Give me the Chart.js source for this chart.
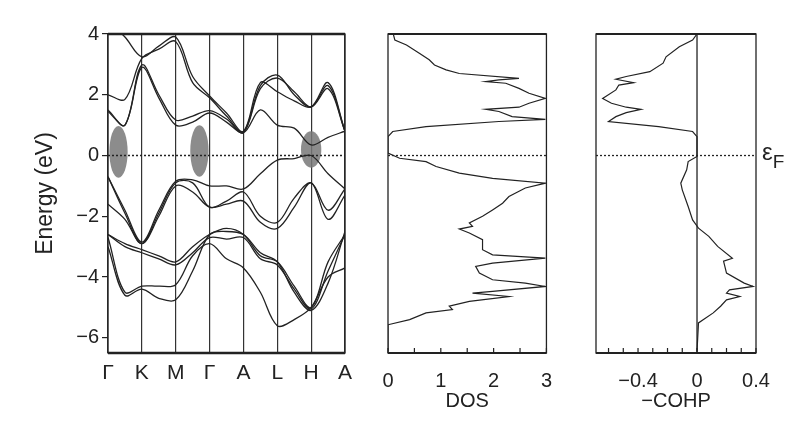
<!DOCTYPE html>
<html><head><meta charset="utf-8">
<script src="https://cdn.jsdelivr.net/npm/chart.js@4"></script>
<style>
body{margin:0;background:#fff;width:812px;height:431px;position:relative;overflow:hidden;font-family:"Liberation Sans",Arial,sans-serif}
canvas{position:absolute;top:0}
#ef{position:absolute;left:762px;top:138px;font-size:24px;color:#222}
#ef sub{font-size:19px;position:relative;top:2px}
</style></head><body>
<canvas id="c1" style="left:0" width="360" height="431"></canvas>
<canvas id="c2" style="left:370px" width="190" height="431"></canvas>
<canvas id="c3" style="left:580px" width="232" height="431"></canvas>
<div id="ef">ε<sub>F</sub></div>
<script>
const kLabels = ["Γ","K","M","Γ","A","L","H","A"];
const kPos = [0,0.5,1,1.5,2,2.5,3,3.5,4,4.5,5,5.5,6,6.5,7];
const bands = [
 [4.4,3.9,3.25,3.6,3.9,2.6,1.96,1.4,0.8,2.4,2.1,1.8,1.6,2.4,0.8],
 [2.0,1.85,3.2,3.5,3.75,2.4,1.9,1.3,0.78,2.3,2.65,2.0,1.6,2.3,0.8],
 [1.5,1.0,2.98,2.0,1.17,1.3,1.48,1.2,0.75,2.2,2.55,2.1,1.6,2.2,0.8],
 [1.45,1.0,2.9,1.9,1.0,1.1,1.4,1.1,0.75,1.5,1.0,0.9,0.35,0.6,0.8],
 [-0.7,-1.8,-2.85,-1.8,-0.85,-0.8,-1.0,-1.0,-1.1,-0.6,-0.15,-0.1,0.0,-0.6,-1.1],
 [-0.7,-1.9,-2.9,-1.9,-0.9,-0.9,-1.7,-1.5,-1.2,-2.0,-2.2,-1.4,-0.9,-1.8,-1.1],
 [-1.6,-2.1,-2.9,-2.0,-1.0,-1.2,-1.7,-1.6,-1.5,-2.2,-2.4,-1.7,-0.9,-2.1,-1.3],
 [-2.6,-2.9,-3.1,-3.3,-3.5,-3.0,-2.6,-2.4,-2.6,-3.3,-3.5,-4.3,-5.0,-3.5,-2.6],
 [-2.6,-3.0,-3.2,-3.4,-3.6,-3.2,-2.7,-2.75,-2.7,-3.4,-3.6,-4.4,-5.05,-3.8,-2.6],
 [-2.7,-4.5,-4.3,-4.3,-4.25,-3.3,-2.9,-3.4,-3.7,-4.5,-5.6,-5.4,-5.0,-4.0,-3.7],
 [-3.0,-4.6,-4.4,-4.7,-4.75,-3.8,-2.6,-2.5,-2.6,-3.2,-3.5,-4.5,-5.1,-4.2,-2.5]
];
const ellipses = [[0.31,0.12,0.27,0.85],[2.7,0.15,0.27,0.85],[6.0,0.2,0.3,0.6]];
const dosE = [4.0,3.8,3.64,3.36,3.15,2.98,2.82,2.7,2.54,2.49,2.43,2.38,2.21,2.05,1.88,1.72,1.59,1.52,1.45,1.28,1.19,1.12,0.95,0.79,0.62,0.08,-0.09,-0.2,-0.36,-0.58,-0.75,-0.91,-1.07,-1.35,-1.57,-1.79,-2.0,-2.22,-2.33,-2.42,-2.55,-2.77,-3.1,-3.27,-3.38,-3.54,-3.65,-3.87,-4.09,-4.2,-4.31,-4.47,-4.53,-4.64,-4.8,-4.96,-5.07,-5.18,-5.4,-5.57,-6.44];
const dosV = [0.1,0.13,0.35,0.6,0.78,0.88,1.1,1.35,2.48,2.1,1.85,2.23,2.48,2.67,2.98,2.67,2.48,1.85,2.1,2.35,2.98,2.1,0.72,0.09,0,0,0.22,0.72,0.91,1.35,1.98,2.98,2.6,2.29,2.17,1.98,1.79,1.54,1.6,1.35,1.54,1.79,1.79,1.98,2.98,1.98,1.66,1.73,1.98,2.6,2.98,1.98,1.6,2.29,1.54,1.16,1.22,0.72,0.41,0,0];
const cohpE = [4,3.8,3.58,3.25,3.04,2.76,2.6,2.51,2.4,2.32,2.16,1.88,1.72,1.59,1.52,1.41,1.28,1.12,0.95,0.79,0.62,-0.03,-0.2,-0.47,-0.91,-1.13,-1.68,-2.12,-2.39,-2.66,-2.99,-3.38,-3.48,-3.87,-4.2,-4.31,-4.42,-4.53,-4.64,-4.75,-4.96,-5.18,-5.51,-6.44];
const cohpV = [0,-0.03,-0.12,-0.21,-0.23,-0.32,-0.48,-0.55,-0.43,-0.53,-0.55,-0.64,-0.58,-0.48,-0.38,-0.48,-0.55,-0.6,-0.26,-0.03,0,0,-0.06,-0.07,-0.11,-0.1,-0.06,-0.03,0.01,0.08,0.14,0.24,0.18,0.2,0.32,0.38,0.22,0.2,0.29,0.2,0.16,0.11,0.01,0];
const eTicks = [4,2,0,-2,-4,-6];
const dosTicks = [0,0.5,1,1.5,2,2.5,3];
const cohpTicks = [-0.6,-0.5,-0.4,-0.3,-0.2,-0.1,0,0.1,0.2,0.3,0.4];

const FONT = "'Liberation Sans', Arial, sans-serif";
const INK = '#222';
Chart.defaults.font.family = FONT;
Chart.defaults.color = INK;
Chart.defaults.animation = false;

function framePlugin(opts){
  return {id:'frame', beforeDatasetsDraw(ch){
    const {ctx, scales:{x,y}} = ch;
    ctx.save();
    if(opts.ellipses){
      ctx.fillStyle = 'rgba(120,120,120,0.85)';
      opts.ellipses.forEach(e=>{
        const cx=x.getPixelForValue(e[0]), cy=y.getPixelForValue(e[1]);
        const rx=Math.abs(x.getPixelForValue(e[0]+e[2])-cx), ry=Math.abs(y.getPixelForValue(e[1]+e[3])-cy);
        ctx.beginPath(); ctx.ellipse(cx,cy,rx,ry,0,0,Math.PI*2); ctx.fill();
      });
    }
    ctx.restore();
  }, afterDatasetsDraw(ch){
    const {ctx, chartArea:a, scales:{x,y}} = ch;
    ctx.save();
    ctx.strokeStyle = INK; ctx.lineWidth = 1.3;
    ctx.strokeRect(a.left,a.top,a.right-a.left,a.bottom-a.top);
    ctx.lineWidth = opts.thickTop?2.4:1.8; ctx.beginPath(); ctx.moveTo(a.left,a.top); ctx.lineTo(a.right,a.top); ctx.moveTo(a.left,a.bottom); ctx.lineTo(a.right,a.bottom); ctx.stroke();
    ctx.lineWidth = 1.3; ctx.setLineDash([2,2]);
    const yz = y.getPixelForValue(0);
    ctx.beginPath(); ctx.moveTo(a.left,yz); ctx.lineTo(a.right,yz); ctx.stroke();
    ctx.setLineDash([]);
    if(opts.zeroLine){
      const xz = x.getPixelForValue(0);
      ctx.lineWidth = 1.3; ctx.beginPath(); ctx.moveTo(xz,a.top); ctx.lineTo(xz,a.bottom); ctx.stroke();
    }
    if(opts.inTicks){
      ctx.lineWidth = 1.2; ctx.beginPath();
      opts.inTicks.forEach(v=>{const px=x.getPixelForValue(v); ctx.moveTo(px,a.bottom); ctx.lineTo(px,a.bottom-5);});
      ctx.stroke();
    }
    ctx.restore();
  }};
}

new Chart(document.getElementById('c1'), {
  type:'line',
  data:{datasets: bands.map(b=>({data:b.map((v,i)=>({x:kPos[i],y:v})), borderColor:INK, borderWidth:1.3, pointRadius:0, tension:0.35, fill:false}))},
  options:{responsive:false, maintainAspectRatio:false,
    layout:{padding:{top:34,right:12,left:32,bottom:0}},
    plugins:{legend:{display:false},tooltip:{enabled:false}},
    scales:{
      x:{type:'linear',min:0,max:7,
        afterBuildTicks:ax=>{ax.ticks=kLabels.map((l,i)=>({value:i}));},
        afterFit:ax=>{ax.height=78;},
        ticks:{autoSkip:false,maxRotation:0,padding:8,font:{size:21},callback:v=>kLabels[v]},
        grid:{color:'#333',lineWidth:1.2,tickLength:0},border:{display:false}},
      y:{min:-6.5,max:4,
        afterBuildTicks:ax=>{ax.ticks=eTicks.map(v=>({value:v}));},
        afterFit:ax=>{ax.width=76;},
        ticks:{font:{size:20},padding:3,callback:v=>v<0?'−'+Math.abs(v):String(v)},
        grid:{drawOnChartArea:false,tickLength:6,color:INK,lineWidth:1.2},border:{display:false},
        title:{display:true,text:'Energy (eV)',font:{size:23},padding:{top:0,bottom:4}}}
    }},
  plugins:[framePlugin({ellipses,thickTop:true})]
});

new Chart(document.getElementById('c2'), {
  type:'scatter',
  data:{datasets:[{data:dosV.map((v,i)=>({x:v,y:dosE[i]})), showLine:true, borderColor:INK, borderWidth:1.2, pointRadius:0, tension:0}]},
  options:{responsive:false, maintainAspectRatio:false,
    layout:{padding:{top:34,right:12,left:18,bottom:18}},
    plugins:{legend:{display:false},tooltip:{enabled:false}},
    scales:{
      x:{type:'linear',min:0,max:3,
        afterBuildTicks:ax=>{ax.ticks=dosTicks.map(v=>({value:v}));},
        afterFit:ax=>{ax.height=60;},
        ticks:{autoSkip:false,maxRotation:0,padding:8,font:{size:20},callback:v=>Number.isInteger(v)?String(v):''},
        grid:{display:false},border:{display:false},
        title:{display:true,text:'DOS',font:{size:20},padding:{top:0,bottom:0}}},
      y:{display:false,min:-6.5,max:4}
    }},
  plugins:[framePlugin({inTicks:dosTicks})]
});

const cohpLab = {"-4":"−0.4","0":"0","4":"0.4"};
new Chart(document.getElementById('c3'), {
  type:'scatter',
  data:{datasets:[{data:cohpV.map((v,i)=>({x:v,y:cohpE[i]})), showLine:true, borderColor:INK, borderWidth:1.2, pointRadius:0, tension:0}]},
  options:{responsive:false, maintainAspectRatio:false,
    layout:{padding:{top:34,right:56,left:16,bottom:18}},
    plugins:{legend:{display:false},tooltip:{enabled:false}},
    scales:{
      x:{type:'linear',min:-0.685,max:0.4,
        afterBuildTicks:ax=>{ax.ticks=cohpTicks.map(v=>({value:v}));},
        afterFit:ax=>{ax.height=60;},
        ticks:{autoSkip:false,maxRotation:0,padding:8,font:{size:20},callback:v=>cohpLab[Math.round(v*10)]||''},
        grid:{display:false},border:{display:false},
        title:{display:true,text:'−COHP',font:{size:20},padding:{top:0,bottom:0}}},
      y:{display:false,min:-6.5,max:4}
    }},
  plugins:[framePlugin({zeroLine:true,inTicks:cohpTicks})]
});
</script>
</body></html>
